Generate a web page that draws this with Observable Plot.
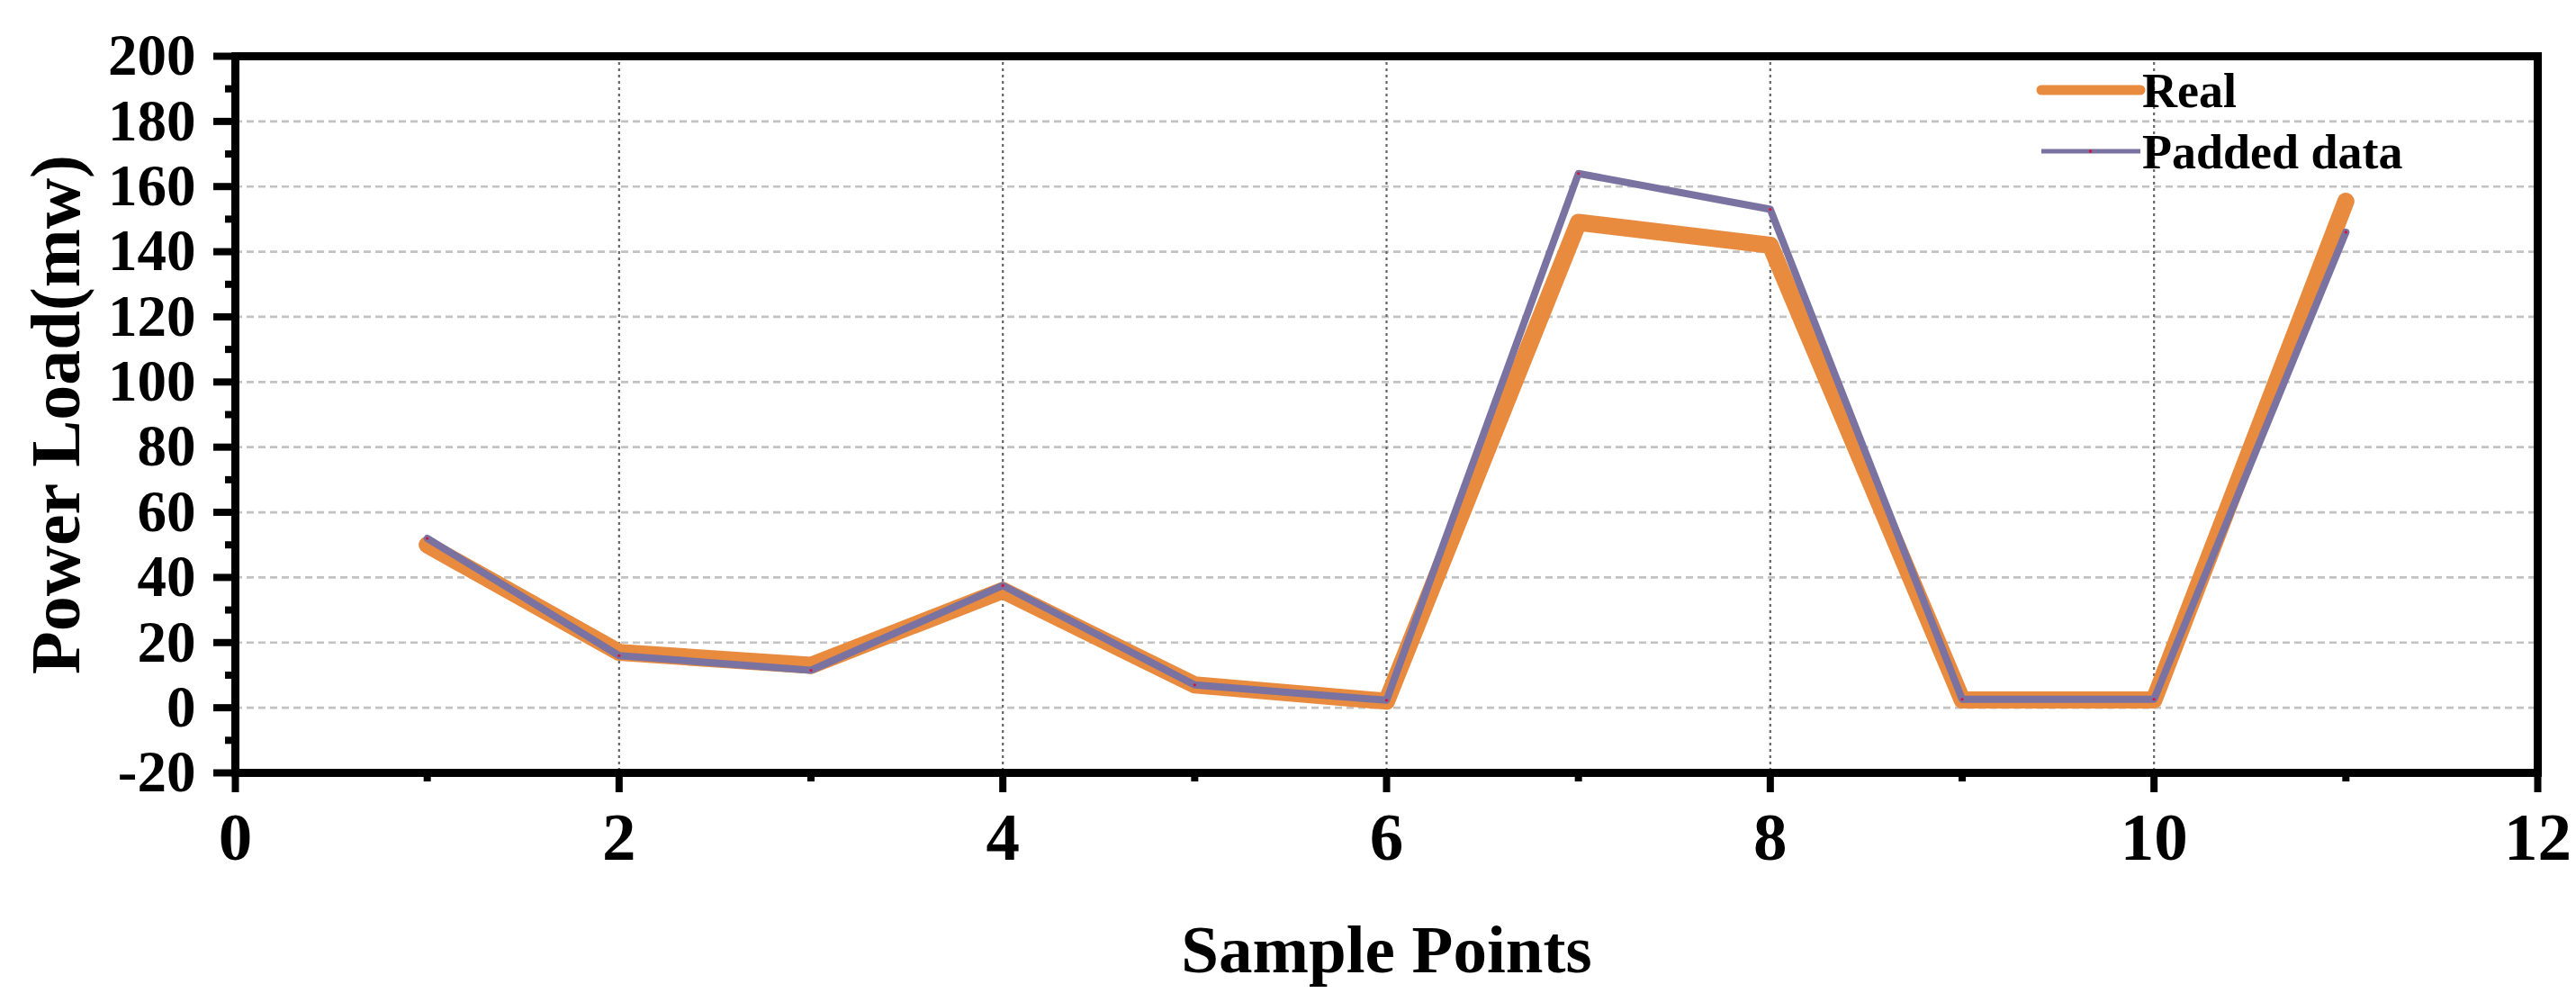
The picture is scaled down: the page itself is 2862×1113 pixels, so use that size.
<!DOCTYPE html>
<html>
<head>
<meta charset="utf-8">
<script src="https://cdn.jsdelivr.net/npm/d3@7"></script>
<script src="https://cdn.jsdelivr.net/npm/@observablehq/plot@0.6"></script>
<style>
html, body { margin: 0; padding: 0; background: #ffffff; }
#wrap { position: relative; width: 2862px; height: 1113px; overflow: hidden; background: #ffffff; }
#legend { position: absolute; left: 0; top: 0; pointer-events: none; }
</style>
</head>
<body>
<div id="wrap"></div>
<script>
// ---- data ----
const samplePoints = [1, 2, 3, 4, 5, 6, 7, 8, 9, 10, 11];
const realLoad   = [50, 17, 13, 36, 7, 2, 149, 142, 2.4, 2.4, 155.5];
const paddedLoad = [52, 16, 11.5, 37.5, 7, 2.3, 164, 153, 2.6, 2.6, 146];

const seriesNames  = ["Real", "Padded data"];
const seriesColors = ["#E88B3F", "#7A72A0"];

const yTicks      = [-20, 0, 20, 40, 60, 80, 100, 120, 140, 160, 180, 200];
const yMinorTicks = [-10, 10, 30, 50, 70, 90, 110, 130, 150, 170, 190];
const xTicks      = [0, 2, 4, 6, 8, 10, 12];
const xMinorTicks = [1, 3, 5, 7, 9, 11];
const yGridLines  = [0, 20, 40, 60, 80, 100, 120, 140, 160, 180];
const xGridLines  = [2, 4, 6, 8, 10];

const realRows   = samplePoints.map((x, i) => ({x, y: realLoad[i]}));
const paddedRows = samplePoints.map((x, i) => ({x, y: paddedLoad[i]}));

const serif = "'Liberation Serif', 'Times New Roman', Times, serif";

const chart = Plot.plot({
  width: 2862,
  height: 1113,
  marginLeft: 261,
  marginRight: 43,
  marginTop: 62,
  marginBottom: 255,
  x: {domain: [0, 12]},
  y: {domain: [-20, 200]},
  style: {fontFamily: serif, fontWeight: "bold", background: "#ffffff", color: "#000000", overflow: "visible"},
  marks: [
    Plot.gridY({ticks: yGridLines, stroke: "#c2c2c2", strokeOpacity: 1, strokeWidth: 2.7, strokeDasharray: "8,5"}),
    Plot.gridX({ticks: xGridLines, stroke: "#666666", strokeOpacity: 1, strokeWidth: 2.2, strokeDasharray: "3,4"}),
    Plot.line(realRows, {x: "x", y: "y", stroke: seriesColors[0], strokeWidth: 19, strokeLinecap: "round", strokeLinejoin: "round"}),
    Plot.line(paddedRows, {x: "x", y: "y", stroke: seriesColors[1], strokeWidth: 8, strokeLinejoin: "round"}),
    Plot.dot(paddedRows, {x: "x", y: "y", r: 1.6, fill: "#d4143c", stroke: null}),
    Plot.axisY({ticks: yMinorTicks, tickSize: 11, strokeWidth: 8, stroke: "#000", tickFormat: () => "", label: null}),
    Plot.axisX({ticks: xMinorTicks, tickSize: 10, strokeWidth: 8, stroke: "#000", tickFormat: () => "", label: null}),
    Plot.axisY({
      ticks: yTicks, tickSize: 24, tickPadding: 20, strokeWidth: 8, stroke: "#000",
      fontSize: 65, fontWeight: "bold", fill: "#000",
      tickFormat: d => String(d),
      label: null
    }),
    Plot.axisY({
      ticks: [], tickSize: 0,
      fontSize: 78, fontWeight: "bold", fill: "#000",
      label: "Power Load(mw)", labelAnchor: "center", labelOffset: 229, labelArrow: "none"
    }),
    Plot.axisX({
      ticks: xTicks, tickSize: 22, tickPadding: 21, strokeWidth: 8, stroke: "#000",
      fontSize: 75, fontWeight: "bold", fill: "#000",
      tickFormat: d => String(d),
      label: "Sample Points", labelAnchor: "center", labelOffset: 221, labelArrow: "none"
    }),
    Plot.frame({stroke: "#000", strokeWidth: 9, fill: "none"})
  ]
});

const wrap = document.getElementById("wrap");
wrap.appendChild(chart);

// ---- legend (inside the plot frame, top right) ----
const legendItems = seriesNames.map((name, i) => ({
  name,
  color: seriesColors[i],
  lineWidth: i === 0 ? 11 : 5,
  cy: i === 0 ? 100 : 168,
  marker: i === 1
}));

const legend = d3.select(wrap).append("svg")
  .attr("id", "legend")
  .attr("width", 2862)
  .attr("height", 1113);

const item = legend.selectAll("g").data(legendItems).join("g");
item.append("line")
  .attr("x1", 2268).attr("x2", 2378)
  .attr("y1", d => d.cy).attr("y2", d => d.cy)
  .attr("stroke", d => d.color)
  .attr("stroke-width", d => d.lineWidth)
  .attr("stroke-linecap", d => d.marker ? "butt" : "round");
item.filter(d => d.marker).append("rect")
  .attr("x", 2321).attr("y", d => d.cy - 1.5)
  .attr("width", 3).attr("height", 3)
  .attr("fill", "#d4143c");
item.append("text")
  .attr("x", 2380)
  .attr("y", d => d.cy + 19)
  .attr("font-family", serif)
  .attr("font-weight", "bold")
  .attr("font-size", 54)
  .attr("fill", "#000")
  .text(d => d.name);
</script>
</body>
</html>
